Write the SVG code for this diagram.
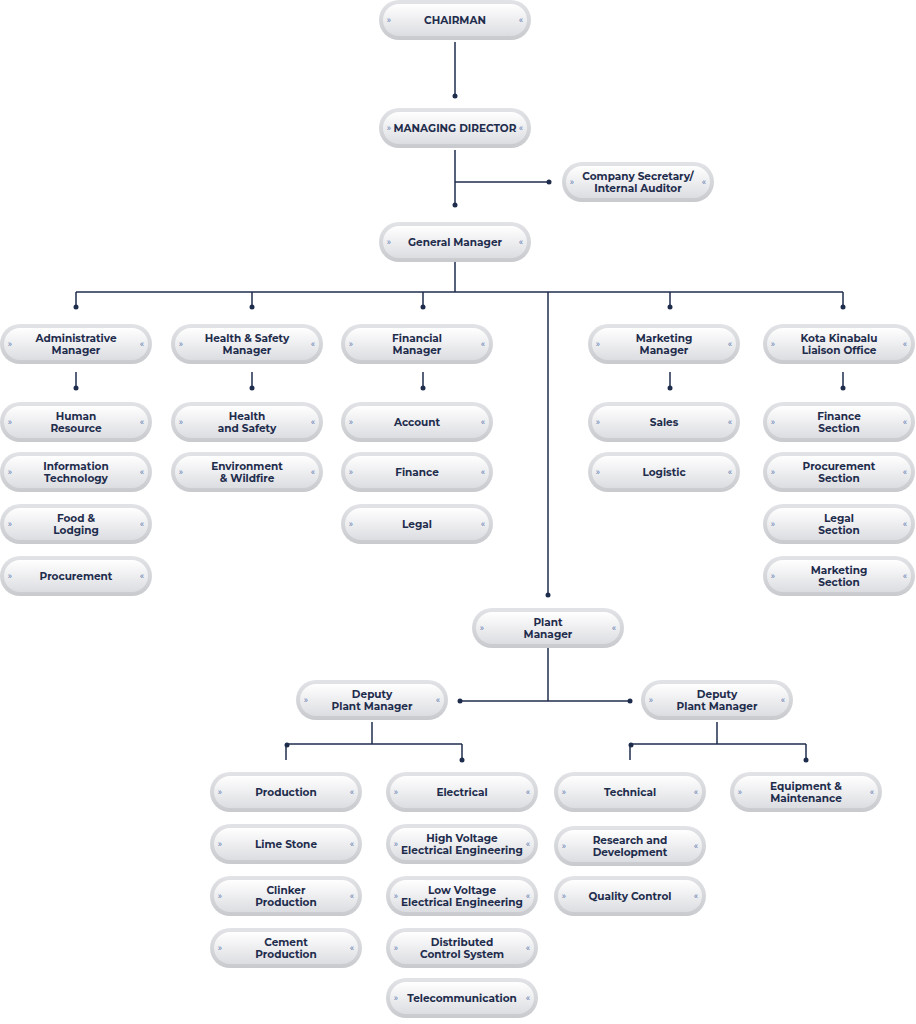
<svg xmlns="http://www.w3.org/2000/svg" width="916" height="1024" viewBox="0 0 916 1024">
<defs>
<linearGradient id="g" x1="0" y1="0" x2="0" y2="1"><stop offset="0" stop-color="#ffffff"/><stop offset="1" stop-color="#dcdde1"/></linearGradient>
<linearGradient id="o" x1="0" y1="0" x2="0" y2="1"><stop offset="0" stop-color="#e2e3e6"/><stop offset="1" stop-color="#c9cace"/></linearGradient>
<g id="pill">
<rect x="-76" y="-20" width="152" height="40" rx="20" fill="url(#o)"/>
<rect x="-72" y="-16" width="144" height="32" rx="16" fill="url(#g)"/>
<text x="-66" y="3" class="ar">»</text><text x="66" y="3" class="ar" text-anchor="end">«</text>
</g>
</defs>
<style>
text{font-family:"Montserrat","Open Sans","Liberation Sans",sans-serif;font-weight:700;font-size:10.5px;fill:#1f2d4d;text-anchor:middle}
.ar{font-size:9px;fill:#4a6aa8;font-weight:400}
.c line{stroke:#1f2d4d;stroke-width:1.5}
.c circle{fill:#1f2d4d}
</style>
<rect width="916" height="1024" fill="#fff"/>
<g class="c" id="connectors">
<line x1="455" y1="42" x2="455" y2="96"/><circle cx="455" cy="96" r="2.5"/>
<line x1="455" y1="150" x2="455" y2="205"/><circle cx="455" cy="205" r="2.5"/>
<line x1="455" y1="182" x2="549" y2="182"/><circle cx="549" cy="182" r="2.5"/>
<line x1="455" y1="262" x2="455" y2="292"/>
<line x1="76" y1="292" x2="843" y2="292"/>
<line x1="76" y1="292" x2="76" y2="307"/><circle cx="76" cy="307" r="2.5"/>
<line x1="252" y1="292" x2="252" y2="307"/><circle cx="252" cy="307" r="2.5"/>
<line x1="423" y1="292" x2="423" y2="307"/><circle cx="423" cy="307" r="2.5"/>
<line x1="670" y1="292" x2="670" y2="307"/><circle cx="670" cy="307" r="2.5"/>
<line x1="843" y1="292" x2="843" y2="307"/><circle cx="843" cy="307" r="2.5"/>
<line x1="548" y1="292" x2="548" y2="595"/><circle cx="548" cy="595" r="2.5"/>
<line x1="76" y1="372" x2="76" y2="388"/><circle cx="76" cy="388" r="2.5"/>
<line x1="252" y1="372" x2="252" y2="388"/><circle cx="252" cy="388" r="2.5"/>
<line x1="423" y1="372" x2="423" y2="388"/><circle cx="423" cy="388" r="2.5"/>
<line x1="670" y1="372" x2="670" y2="388"/><circle cx="670" cy="388" r="2.5"/>
<line x1="843" y1="372" x2="843" y2="388"/><circle cx="843" cy="388" r="2.5"/>
<line x1="548" y1="648" x2="548" y2="701"/>
<line x1="460" y1="701" x2="630" y2="701"/><circle cx="460" cy="701" r="2.5"/><circle cx="630" cy="701" r="2.5"/>
<line x1="372" y1="722" x2="372" y2="744"/>
<line x1="286" y1="744" x2="462" y2="744"/><circle cx="287" cy="745" r="2.5"/>
<line x1="286" y1="744" x2="286" y2="760"/><line x1="462" y1="744" x2="462" y2="760"/><circle cx="462" cy="760" r="2.5"/>
<line x1="717" y1="722" x2="717" y2="744"/>
<line x1="630" y1="744" x2="806" y2="744"/><circle cx="631" cy="745" r="2.5"/>
<line x1="630" y1="744" x2="630" y2="760"/><line x1="806" y1="744" x2="806" y2="760"/><circle cx="806" cy="760" r="2.5"/>
</g>
<g id="chairman" transform="translate(455,20)"><use href="#pill"/><text y="4">CHAIRMAN</text></g>
<g id="md" transform="translate(455,128)"><use href="#pill"/><text y="4">MANAGING DIRECTOR</text></g>
<g id="secretary" transform="translate(638,182)"><use href="#pill"/><text y="-2">Company Secretary/</text><text y="10">Internal Auditor</text></g>
<g id="gm" transform="translate(455,242)"><use href="#pill"/><text y="4">General Manager</text></g>
<g id="admin" transform="translate(76,344)"><use href="#pill"/><text y="-2">Administrative</text><text y="10">Manager</text></g>
<g id="hs" transform="translate(247,344)"><use href="#pill"/><text y="-2">Health &amp; Safety</text><text y="10">Manager</text></g>
<g id="fin" transform="translate(417,344)"><use href="#pill"/><text y="-2">Financial</text><text y="10">Manager</text></g>
<g id="mkt" transform="translate(664,344)"><use href="#pill"/><text y="-2">Marketing</text><text y="10">Manager</text></g>
<g id="kota" transform="translate(839,344)"><use href="#pill"/><text y="-2">Kota Kinabalu</text><text y="10">Liaison Office</text></g>
<g id="hr" transform="translate(76,422)"><use href="#pill"/><text y="-2">Human</text><text y="10">Resource</text></g>
<g id="it" transform="translate(76,472)"><use href="#pill"/><text y="-2">Information</text><text y="10">Technology</text></g>
<g id="food" transform="translate(76,524)"><use href="#pill"/><text y="-2">Food &amp;</text><text y="10">Lodging</text></g>
<g id="proc" transform="translate(76,576)"><use href="#pill"/><text y="4">Procurement</text></g>
<g id="hs2" transform="translate(247,422)"><use href="#pill"/><text y="-2">Health</text><text y="10">and Safety</text></g>
<g id="env" transform="translate(247,472)"><use href="#pill"/><text y="-2">Environment</text><text y="10">&amp; Wildfire</text></g>
<g id="acc" transform="translate(417,422)"><use href="#pill"/><text y="4">Account</text></g>
<g id="finance" transform="translate(417,472)"><use href="#pill"/><text y="4">Finance</text></g>
<g id="legal" transform="translate(417,524)"><use href="#pill"/><text y="4">Legal</text></g>
<g id="sales" transform="translate(664,422)"><use href="#pill"/><text y="4">Sales</text></g>
<g id="log" transform="translate(664,472)"><use href="#pill"/><text y="4">Logistic</text></g>
<g id="fs" transform="translate(839,422)"><use href="#pill"/><text y="-2">Finance</text><text y="10">Section</text></g>
<g id="ps" transform="translate(839,472)"><use href="#pill"/><text y="-2">Procurement</text><text y="10">Section</text></g>
<g id="ls" transform="translate(839,524)"><use href="#pill"/><text y="-2">Legal</text><text y="10">Section</text></g>
<g id="ms" transform="translate(839,576)"><use href="#pill"/><text y="-2">Marketing</text><text y="10">Section</text></g>
<g id="plant" transform="translate(548,628)"><use href="#pill"/><text y="-2">Plant</text><text y="10">Manager</text></g>
<g id="dpl" transform="translate(372,700)"><use href="#pill"/><text y="-2">Deputy</text><text y="10">Plant Manager</text></g>
<g id="dpr" transform="translate(717,700)"><use href="#pill"/><text y="-2">Deputy</text><text y="10">Plant Manager</text></g>
<g id="prod" transform="translate(286,792)"><use href="#pill"/><text y="4">Production</text></g>
<g id="lime" transform="translate(286,844)"><use href="#pill"/><text y="4">Lime Stone</text></g>
<g id="clinker" transform="translate(286,896)"><use href="#pill"/><text y="-2">Clinker</text><text y="10">Production</text></g>
<g id="cement" transform="translate(286,948)"><use href="#pill"/><text y="-2">Cement</text><text y="10">Production</text></g>
<g id="elec" transform="translate(462,792)"><use href="#pill"/><text y="4">Electrical</text></g>
<g id="hv" transform="translate(462,844)"><use href="#pill"/><text y="-2">High Voltage</text><text y="10">Electrical Engineering</text></g>
<g id="lv" transform="translate(462,896)"><use href="#pill"/><text y="-2">Low Voltage</text><text y="10">Electrical Engineering</text></g>
<g id="dcs" transform="translate(462,948)"><use href="#pill"/><text y="-2">Distributed</text><text y="10">Control System</text></g>
<g id="tel" transform="translate(462,998)"><use href="#pill"/><text y="4">Telecommunication</text></g>
<g id="tech" transform="translate(630,792)"><use href="#pill"/><text y="4">Technical</text></g>
<g id="rd" transform="translate(630,846)"><use href="#pill"/><text y="-2">Research and</text><text y="10">Development</text></g>
<g id="qc" transform="translate(630,896)"><use href="#pill"/><text y="4">Quality Control</text></g>
<g id="equip" transform="translate(806,792)"><use href="#pill"/><text y="-2">Equipment &amp;</text><text y="10">Maintenance</text></g>
</svg>
